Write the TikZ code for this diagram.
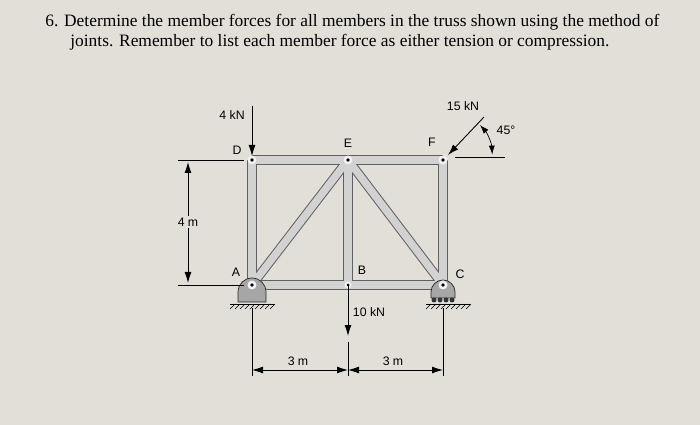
\documentclass[tikz,border=0pt]{standalone}
\usepackage{fontspec}
\setmainfont{Liberation Serif}
\newfontfamily\lab{Liberation Sans}
\usetikzlibrary{arrows.meta,patterns}
\begin{document}
\begin{tikzpicture}[x=0.02cm,y=-0.02cm,
  bar/.style={line width=0.19cm,draw=gray!75!black,line cap=butt},
  barin/.style={line width=0.15cm,draw=gray!35},
  lbl/.style={font=\lab\fontsize{7}{8}\selectfont,inner sep=1pt},
  dim/.style={-{Latex[length=2.2mm,width=1.4mm]},line width=0.5pt},
  thin/.style={line width=0.4pt}]
\fill[fill={rgb,255:red,226;green,223;blue,216}] (0,0) rectangle (700,425);
\node[anchor=west,font=\fontsize{9.9}{12}\selectfont,inner sep=0] (t1) at (45,22) {6. Determine the member forces for all members in the truss shown using the method of};
\node[anchor=west,font=\fontsize{9.9}{12}\selectfont,inner sep=0] (t2) at (70,42) {joints. Remember to list each member force as either tension or compression.};
\coordinate (D) at (252,160); \coordinate (E) at (348,160); \coordinate (F) at (443,160);
\coordinate (A) at (252,285); \coordinate (B) at (348,285); \coordinate (C) at (443,285);
% members
\foreach \p/\q in {D/E,E/F,D/A,F/C,A/B,B/C,E/B,A/E,E/C}{\draw[bar] (\p)--(\q);}
\foreach \p/\q in {D/E,E/F,D/A,F/C,A/B,B/C,E/B,A/E,E/C}{\draw[barin] (\p)--(\q);}
% supports
\fill[gray!70,draw=gray!30!black] (238,302) -- (238,292) arc[start angle=180,end angle=360,radius=14] -- (266,302) -- cycle;
\fill[gray!70,draw=gray!30!black] (431,298) -- (431,292) arc[start angle=180,end angle=360,radius=12] -- (455,298) -- cycle;
\foreach \x in {434,440,446,452}{\fill[black!80] (\x,300) circle (2.5);}
\foreach \x/\y in {230/304,426/304}{\draw[thin] (\x,\y)--(\x+44,\y);
  \foreach \k in {0,5,...,40}{\draw[line width=0.3pt] (\x+\k,\y+5)--(\x+\k+5,\y);}}
% pins
\foreach \n in {D,E,F,A,C}{\fill[white!90!gray] (\n) circle (4.5); \fill (\n) circle (1.8);}
\fill[white!90!gray] (B) circle (3.5); \fill (B) circle (1.5);
% labels
\node[lbl] (lD) at (237,150) {D}; \node[lbl] (lE) at (348,143) {E}; \node[lbl] (lF) at (432,142) {F};
\node[lbl] (lA) at (236,272) {A}; \node[lbl] (lB) at (362,270) {B}; \node[lbl] (lC) at (460,274) {C};
% loads
\coordinate (L4) at (252,106); \draw[dim] (L4)--(252,156); \node[lbl] (l4) at (232,115) {4 kN};
\coordinate (L10) at (348,336); \draw[dim] (B)--(L10); \node[lbl] (l10) at (369,312) {10 kN};
\coordinate (L15) at (484,117); \draw[dim] (L15)--(448,155); \node[lbl] (l15) at (463,106) {15 kN};
\draw[thin] (455,157)--(505,157);
\draw[{Latex[length=1.8mm,width=1.2mm]}-{Latex[length=1.8mm,width=1.2mm]},thin] (480,125) arc[start angle=-42,end angle=-3,radius=48];
\node[lbl] (l45) at (506,130) {45°};
% dimension 4 m
\draw[thin] (178,160)--(244,160); \draw[thin] (178,285)--(244,285);
\coordinate (V1) at (188,162); \coordinate (V2) at (188,283);
\node[lbl,fill={rgb,255:red,226;green,223;blue,216}] (l4m) at (188,222) {4 m};
\draw[dim] (l4m.north)--(V1); \draw[dim] (l4m.south)--(V2);
% dimension 3 m
\draw[thin] (252,308)--(252,376); \draw[thin] (348,342)--(348,376); \draw[thin] (443,308)--(443,376);
\coordinate (H1) at (252,370); \coordinate (H2) at (348,370); \coordinate (H3) at (443,370);
\draw[{Latex[length=2.2mm,width=1.4mm]}-{Latex[length=2.2mm,width=1.4mm]},line width=0.5pt] (H1)--(H2);
\draw[{Latex[length=2.2mm,width=1.4mm]}-{Latex[length=2.2mm,width=1.4mm]},line width=0.5pt] (H2)--(H3);
\node[lbl] (l3a) at (298,361) {3 m}; \node[lbl] (l3b) at (393,361) {3 m};
\end{tikzpicture}
\end{document}
